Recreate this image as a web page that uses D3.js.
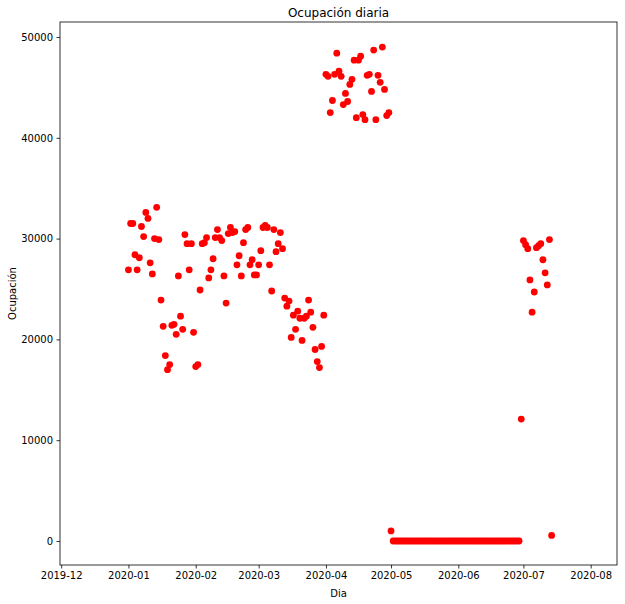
<!DOCTYPE html>
<html>
<head>
<meta charset="utf-8">
<script src="https://cdn.jsdelivr.net/npm/d3@7"></script>
<style>
  body { margin: 0; background: #fff; }
  svg { display: block; }
  text { font-family: "DejaVu Sans", sans-serif; fill: #000; }
</style>
</head>
<body>
<svg id="chart" width="625" height="604"></svg>
<script>
// ---- Data (daily occupancy, starting 2020-01-01) ----
const fechaInicio = "2020-01-01";

const ocupacionEneMar = [
  26900,31500,31500,28400,26900,28100,31200,30200,32600,32000,
  27600,26500,30000,33100,29900,23900,21300,18400,17000,17500,
  21400,21500,20500,26300,22300,21000,30400,29500,26900,29500,
  20700,17300,17500,24900,29500,29600,30100,26100,26900,28000,
  30100,30900,30100,29800,26300,23600,30500,31100,30600,30700,
  27400,28300,26300,29600,30900,31100,27400,27900,26400,26400,
  27400,28800,31100,31300,31100,27400,24800,30900,28700,29500,
  30600,29000,24100,23300,23800,20200,22400,21000,22800,22100,
  19900,22100,22300,23900,22700,21200,19000,17800,17200,19300,
  22400
];

const ocupacionAbr = [
  46300,46100,42500,43700,46300,48400,46600,46100,43300,44400,
  43600,45300,45800,47700,42000,47700,48100,42300,41800,46200,
  46300,44600,48700,41800,46200,45500,49000,44800,42200,42500
];

const ocupacionMayJun = [
  1000,
  0,0,0,0,0,0,0,0,0,0,
  0,0,0,0,0,0,0,0,0,0,
  0,0,0,0,0,0,0,0,0,0,
  0,0,0,0,0,0,0,0,0,0,
  0,0,0,0,0,0,0,0,0,0,
  0,0,0,0,0,0,0,0,0,
  12100
];

const ocupacionJul = [
  29800,29400,29000,25900,22700,24700,29100,29300,29500,27900,
  26600,25400,29900,550
];

const yTicks = [0, 10000, 20000, 30000, 40000, 50000];
const xTickMonths = ["2019-12","2020-01","2020-02","2020-03","2020-04","2020-05","2020-06","2020-07","2020-08"];

// ---- Build records ----
const valores = [].concat(ocupacionEneMar, ocupacionAbr, ocupacionMayJun, ocupacionJul);
const t0 = new Date(fechaInicio + "T00:00:00Z");
const datos = valores.map((v, i) => ({ fecha: d3.utcDay.offset(t0, i), valor: v }));

// ---- Layout ----
const svg = d3.select("#chart");
const L = 60, R = 617, T = 22, B = 565;

const x = d3.scaleUtc()
  .domain([new Date(Date.UTC(2019, 10, 30, 11)), new Date(Date.UTC(2020, 7, 13, 3))])
  .range([L, R]);
const y = d3.scaleLinear()
  .domain([-2381, 51488])
  .range([B, T]);

// points
svg.append("g")
  .selectAll("circle")
  .data(datos)
  .join("circle")
  .attr("cx", d => x(d.fecha))
  .attr("cy", d => y(d.valor))
  .attr("r", 3.4)
  .attr("fill", "#ff0000");

// axes
const fmt = d3.utcFormat("%Y-%m");
const xAxis = d3.axisBottom(x)
  .tickValues(xTickMonths.map(m => new Date(m + "-01T00:00:00Z")))
  .tickFormat(fmt)
  .tickSizeInner(3.5).tickSizeOuter(0).tickPadding(3.5);
const yAxis = d3.axisLeft(y)
  .tickValues(yTicks)
  .tickFormat(d3.format("d"))
  .tickSizeInner(3.5).tickSizeOuter(0).tickPadding(3.5);

const gx = svg.append("g").attr("transform", `translate(0,${B})`).call(xAxis);
const gy = svg.append("g").attr("transform", `translate(${L},0)`).call(yAxis);
[gx, gy].forEach(g => {
  g.select(".domain").remove();
  g.selectAll(".tick line").attr("stroke", "#000").attr("stroke-width", 0.8);
  g.selectAll(".tick text").attr("font-size", 10).attr("fill", "#000")
    .attr("font-family", "DejaVu Sans, sans-serif");
});

// frame
svg.append("rect")
  .attr("x", L).attr("y", T).attr("width", R - L).attr("height", B - T)
  .attr("fill", "none").attr("stroke", "#000").attr("stroke-width", 0.8);

// title & labels
svg.append("text").attr("x", (L + R) / 2).attr("y", 17)
  .attr("text-anchor", "middle").attr("font-size", 12).text("Ocupación diaria");
svg.append("text").attr("x", (L + R) / 2).attr("y", 597)
  .attr("text-anchor", "middle").attr("font-size", 10).text("Dia");
svg.append("text").attr("transform", `translate(16,${(T + B) / 2}) rotate(-90)`)
  .attr("text-anchor", "middle").attr("font-size", 10).text("Ocupación");
</script>
</body>
</html>
